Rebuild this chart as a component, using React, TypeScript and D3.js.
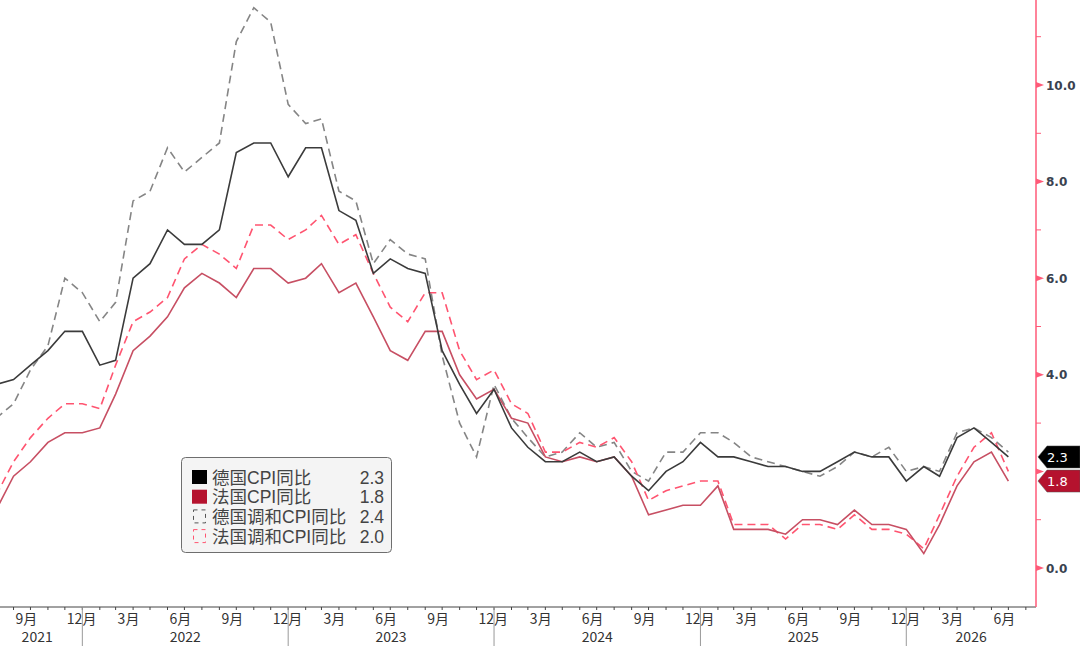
import { useRef, useEffect } from "react";
import * as d3 from "d3";

// monthly, Jul 2021 .. Jun 2026
const startYear = 2021;
const startMonth = 6; // July (0-based)

const deCpi = [
  3.8, 3.9, 4.2, 4.5, 4.9, 4.9,
  4.2, 4.3, 6.0, 6.3, 7.0, 6.7, 6.7, 7.0, 8.6, 8.8, 8.8, 8.1,
  8.7, 8.7, 7.4, 7.2, 6.1, 6.4, 6.2, 6.1, 4.5, 3.8, 3.2, 3.7,
  2.9, 2.5, 2.2, 2.2, 2.4, 2.2, 2.3, 1.9, 1.6, 2.0, 2.2, 2.6,
  2.3, 2.3, 2.2, 2.1, 2.1, 2.0, 2.0, 2.2, 2.4, 2.3, 2.3, 1.8,
  2.1, 1.9, 2.7, 2.9, 2.6, 2.3,
];
const frCpi = [
  1.2, 1.9, 2.2, 2.6, 2.8, 2.8,
  2.9, 3.6, 4.5, 4.8, 5.2, 5.8, 6.1, 5.9, 5.6, 6.2, 6.2, 5.9,
  6.0, 6.3, 5.7, 5.9, 5.2, 4.5, 4.3, 4.9, 4.9, 4.0, 3.5, 3.7,
  3.1, 3.0, 2.3, 2.2, 2.3, 2.2, 2.3, 1.9, 1.1, 1.2, 1.3, 1.3,
  1.7, 0.8, 0.8, 0.8, 0.7, 1.0, 1.0, 0.9, 1.2, 0.9, 0.9, 0.8,
  0.3, 0.9, 1.7, 2.2, 2.4, 1.8,
];
const deHicp = [
  3.1, 3.4, 4.1, 4.6, 6.0, 5.7,
  5.1, 5.5, 7.6, 7.8, 8.7, 8.2, 8.5, 8.8, 10.9, 11.6, 11.3, 9.6,
  9.2, 9.3, 7.8, 7.6, 6.3, 6.8, 6.5, 6.4, 4.4, 3.0, 2.3, 3.8,
  3.1, 2.7, 2.3, 2.4, 2.8, 2.5, 2.6, 2.0, 1.8, 2.4, 2.4, 2.8,
  2.8, 2.6, 2.3, 2.2, 2.1, 2.0, 1.9, 2.1, 2.4, 2.3, 2.5, 2.0,
  2.1, 2.0, 2.8, 2.9, 2.7, 2.4,
];
const frHicp = [
  1.5, 2.2, 2.7, 3.1, 3.4, 3.4,
  3.3, 4.2, 5.1, 5.3, 5.6, 6.4, 6.7, 6.5, 6.2, 7.1, 7.1, 6.8,
  7.0, 7.3, 6.7, 6.9, 6.1, 5.4, 5.1, 5.7, 5.7, 4.5, 3.9, 4.1,
  3.4, 3.2, 2.4, 2.4, 2.6, 2.5, 2.7, 2.2, 1.4, 1.6, 1.7, 1.8,
  1.8, 0.9, 0.9, 0.9, 0.6, 0.9, 0.9, 0.8, 1.1, 0.8, 0.8, 0.7,
  0.4, 1.1, 1.9, 2.5, 2.8, 2.0,
];

const legendNames = ["德国CPI同比", "法国CPI同比", "德国调和CPI同比", "法国调和CPI同比"];
const legendValues = ["2.3", "1.8", "2.4", "2.0"];
const yTicks = [0, 1, 2, 3, 4, 5, 6, 7, 8, 9, 10, 11];
// 2.0 sits under the last-value badges, so it is not printed
const yLabels = [0, 4, 6, 8, 10];
const years = [2021, 2022, 2023, 2024, 2025, 2026];

const CJK = "'Noto Sans CJK SC', 'Noto Sans', sans-serif";
const LEGEND_FONT = "'Liberation Sans', 'Noto Sans CJK SC', sans-serif";
const NUM = "'DejaVu Sans', sans-serif";

export default function App() {
  const svgRef = useRef<SVGSVGElement>(null);

  useEffect(() => {
    if (!svgRef.current) return;
    const svg = d3.select(svgRef.current);
    svg.selectAll("*").remove();

    const width = 1080;
    const height = 646;
    const plotRight = 1036;
    const plotBottom = 607;

    const x = d3
      .scaleTime()
      .domain([new Date(2021, 7, 8), new Date(2026, 7, 19)])
      .range([0, plotRight]);
    const y = d3.scaleLinear().domain([0, 10]).range([568, 85]);

    // monthly points sit at month end
    const dates = deCpi.map((_, i) => new Date(startYear, startMonth + i + 1, 1));

    svg.attr("width", width).attr("height", height);
    svg.append("rect").attr("width", width).attr("height", height).attr("fill", "#fff");

    svg
      .append("defs")
      .append("clipPath")
      .attr("id", "plot-clip")
      .append("rect")
      .attr("x", 0)
      .attr("y", 0)
      .attr("width", plotRight)
      .attr("height", plotBottom);

    const line = d3
      .line<number>()
      .x((_, i) => x(dates[i]))
      .y((d) => y(d));

    const series = [
      { data: deHicp, color: "#858585", dash: "8,5" },
      { data: frHicp, color: "#ff5470", dash: "8,5" },
      { data: frCpi, color: "#c74f63", dash: null },
      { data: deCpi, color: "#3b3b3b", dash: null },
    ];

    const lines = svg.append("g").attr("clip-path", "url(#plot-clip)");
    series.forEach((s) => {
      lines
        .append("path")
        .datum(s.data)
        .attr("fill", "none")
        .attr("stroke", s.color)
        .attr("stroke-width", 1.6)
        .attr("stroke-dasharray", s.dash)
        .attr("d", line);
    });

    // X axis
    const xa = svg.append("g");
    xa.append("line")
      .attr("x1", 0)
      .attr("x2", plotRight)
      .attr("y1", plotBottom)
      .attr("y2", plotBottom)
      .attr("stroke", "#444")
      .attr("stroke-width", 1);

    const months = d3.timeMonth.range(x.domain()[0], x.domain()[1]);
    xa.selectAll(".mtick")
      .data(months)
      .enter()
      .append("line")
      .attr("x1", (d) => x(d))
      .attr("x2", (d) => x(d))
      .attr("y1", plotBottom)
      .attr("y2", plotBottom + 3)
      .attr("stroke", "#444");

    xa.selectAll(".mlabel")
      .data(months.filter((d) => d.getMonth() % 3 === 2))
      .enter()
      .append("text")
      .attr("x", (d) => x(d) + 2)
      .attr("y", plotBottom + 17)
      .attr("font-family", CJK)
      .attr("font-size", 14)
      .attr("fill", "#333")
      .text((d) => `${d.getMonth() + 1}月`);

    const yearStarts = d3.timeYear.range(new Date(2022, 0, 1), new Date(2027, 0, 1));
    xa.selectAll(".ysep")
      .data(yearStarts)
      .enter()
      .append("line")
      .attr("x1", (d) => x(d))
      .attr("x2", (d) => x(d))
      .attr("y1", plotBottom)
      .attr("y2", height)
      .attr("stroke", "#999");

    xa.selectAll(".ylabel")
      .data(years)
      .enter()
      .append("text")
      .attr("x", (d) => {
        const a = Math.max(x(new Date(d, 0, 1)), -8);
        const b = Math.min(x(new Date(d + 1, 0, 1)), plotRight);
        return (a + b) / 2;
      })
      .attr("y", plotBottom + 35)
      .attr("text-anchor", "middle")
      .attr("font-family", CJK)
      .attr("font-size", 14)
      .attr("fill", "#333")
      .text((d) => d);

    // Y axis (right)
    const ya = svg.append("g");
    const axisColor = "#ff5a78";
    ya.append("line")
      .attr("x1", plotRight)
      .attr("x2", plotRight)
      .attr("y1", 0)
      .attr("y2", plotBottom)
      .attr("stroke", axisColor)
      .attr("stroke-width", 1.5);

    ya.selectAll(".minor")
      .data(yTicks.filter((d) => d % 2 === 1))
      .enter()
      .append("line")
      .attr("x1", plotRight)
      .attr("x2", plotRight + 5)
      .attr("y1", (d) => y(d))
      .attr("y2", (d) => y(d))
      .attr("stroke", axisColor);

    ya.selectAll(".major")
      .data(yTicks.filter((d) => d % 2 === 0))
      .enter()
      .append("path")
      .attr("d", (d) => `M${plotRight},${y(d) - 3}L${plotRight + 8},${y(d)}L${plotRight},${y(d) + 3}Z`)
      .attr("fill", axisColor);

    ya.selectAll(".ylab")
      .data(yLabels)
      .enter()
      .append("text")
      .attr("x", plotRight + 10)
      .attr("y", (d) => y(d) + 4.5)
      .attr("font-family", NUM)
      .attr("font-size", 12)
      .attr("font-weight", "bold")
      .attr("fill", "#3a4250")
      .text((d) => d3.format(".1f")(d));

    // last-value badges
    const badges = [
      { v: deCpi[deCpi.length - 1], fill: "#000", label: legendValues[0] },
      { v: frCpi[frCpi.length - 1], fill: "#b5122e", label: legendValues[1] },
    ];
    badges.forEach((b) => {
      const cy = y(b.v);
      svg
        .append("path")
        .attr(
          "d",
          `M${plotRight + 2},${cy}L${plotRight + 11},${cy - 11}L${width},${cy - 11}L${width},${cy + 11}L${plotRight + 11},${cy + 11}Z`
        )
        .attr("fill", b.fill)
        .attr("stroke", "#555")
        .attr("stroke-width", 0.5);
      svg
        .append("text")
        .attr("x", plotRight + 11)
        .attr("y", cy + 5)
        .attr("font-family", NUM)
        .attr("font-size", 13)
        .attr("fill", "#fff")
        .text(b.label);
    });

    // Legend
    const lg = svg.append("g");
    lg.append("rect")
      .attr("x", 181.5)
      .attr("y", 457.5)
      .attr("width", 210)
      .attr("height", 95)
      .attr("rx", 4)
      .attr("fill", "#f4f4f4")
      .attr("stroke", "#6e6e6e");

    const swatches = [
      { fill: "#000", stroke: null, dash: null },
      { fill: "#b5122e", stroke: null, dash: null },
      { fill: "none", stroke: "#555", dash: "4,4" },
      { fill: "none", stroke: "#ff5470", dash: "4,4" },
    ];
    legendNames.forEach((name, i) => {
      const cy = 477 + i * 19.7;
      const s = swatches[i];
      if (s.stroke) {
        lg.append("rect")
          .attr("x", 193.5)
          .attr("y", cy - 6.5)
          .attr("width", 12)
          .attr("height", 13)
          .attr("fill", "none")
          .attr("stroke", s.stroke)
          .attr("stroke-dasharray", s.dash);
      } else {
        lg.append("rect")
          .attr("x", 192)
          .attr("y", cy - 7)
          .attr("width", 15)
          .attr("height", 14)
          .attr("fill", s.fill);
      }
      lg.append("text")
        .attr("x", 212)
        .attr("y", cy + 6.5)
        .attr("font-family", LEGEND_FONT)
        .attr("font-size", 17.5)
        .attr("fill", "#444")
        .text(name);
      lg.append("text")
        .attr("x", 384)
        .attr("y", cy + 6.5)
        .attr("text-anchor", "end")
        .attr("font-family", LEGEND_FONT)
        .attr("font-size", 17.5)
        .attr("fill", "#444")
        .text(legendValues[i]);
    });
  }, []);

  return (
    <svg
      ref={svgRef}
      style={{ position: "absolute", left: 0, top: 0, display: "block" }}
    />
  );
}
